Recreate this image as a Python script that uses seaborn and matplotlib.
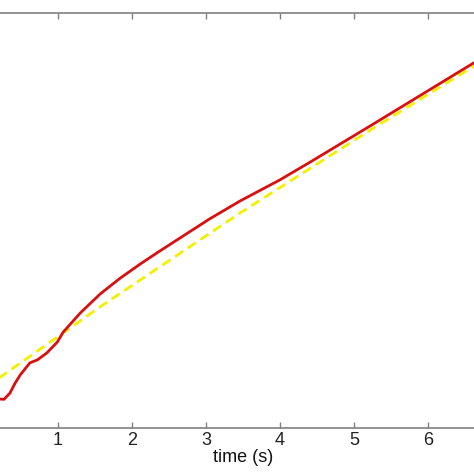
import pandas as pd
import matplotlib
matplotlib.use('Agg')
import matplotlib.pyplot as plt
import seaborn as sns

t_meas = [0.20, 0.27, 0.35, 0.42, 0.49, 0.62, 0.72, 0.85, 0.99, 1.07, 1.30, 1.57,
          1.84, 2.11, 2.38, 2.65, 3.05, 3.46, 4.00, 4.41, 5.22, 6.62, 6.70]
y_meas = [0.70, 0.69, 0.84, 1.08, 1.28, 1.57, 1.64, 1.81, 2.07, 2.31, 2.77, 3.23,
          3.61, 3.95, 4.27, 4.58, 5.04, 5.47, 5.98, 6.41, 7.28, 8.80, 8.88]

# Fitted line (yellow dashed)
t_fit = [0.20, 1.57, 3.46, 5.22, 6.62, 6.70]
y_fit = [1.20, 2.92, 5.18, 7.18, 8.72, 8.81]

tick_labels = ['', '1', '2', '3', '4', '5', '6', '']

sns.set_style('white')
plt.rcParams['font.family'] = ['Liberation Sans', 'DejaVu Sans']

fig = plt.figure(figsize=(4.74, 4.74), dpi=100)
ax = fig.add_axes([-16 / 474, 46 / 474, 518 / 474, 415 / 474])

df_fit = pd.DataFrame({'t': t_fit, 'y': y_fit})
df_meas = pd.DataFrame({'t': t_meas, 'y': y_meas})

sns.lineplot(data=df_fit, x='t', y='y', ax=ax, color='#f2f000',
             linewidth=2, linestyle=(0, (3.5, 2)), sort=False)
sns.lineplot(data=df_meas, x='t', y='y', ax=ax, color='#d81010',
             linewidth=2, sort=False)

ax.set_xlim(0, 7)
ax.set_ylim(0, 10)
ax.set_xticks(range(0, 8))
ax.set_xticklabels(tick_labels)
ax.set_yticks([])
ax.set_xlabel('time (s)', fontsize=13, color='#111111', labelpad=0)
ax.set_ylabel('')

for side in ['top', 'bottom', 'left', 'right']:
    ax.spines[side].set_color('#808080')
    ax.spines[side].set_linewidth(1.2)

ax.tick_params(axis='x', direction='in', top=True, bottom=True, length=4,
               width=1, color='#808080', labelsize=13, labelcolor='#222222', pad=3)

fig.savefig('out.png', dpi=100)
